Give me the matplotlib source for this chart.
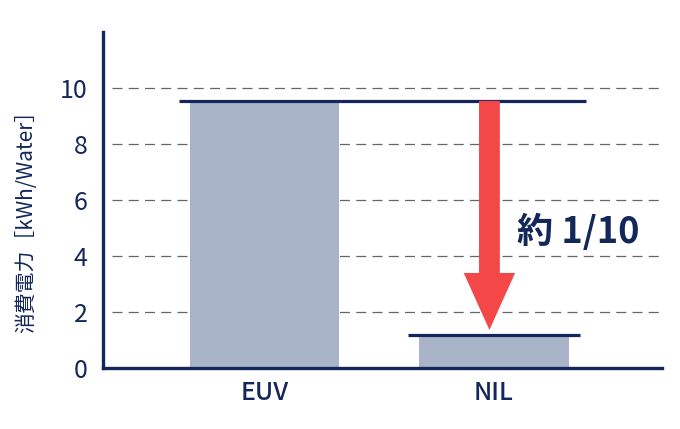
import matplotlib
matplotlib.use("Agg")
import matplotlib.pyplot as plt

plt.rcParams['font.family'] = ['Noto Sans CJK JP', 'DejaVu Sans']

# data
categories = ['EUV', 'NIL']
power = [9.54, 1.18]
yticks = [0, 2, 4, 6, 8, 10]
ratio_label = '約 1/10'
ylabel = '消費電力［kWh/Water］'

navy = '#13275a'
bar_color = '#aab4c8'
red = '#f44848'

fig = plt.figure(figsize=(6.8, 4.29), dpi=100)
ax = fig.add_axes([0.1515, 0.1422, 0.822, 0.7832])

x = [0, 1]
ax.bar(x, power, width=0.65, color=bar_color, zorder=2)

# dashed guide lines, starting a little right of the axis
ax.hlines(yticks[1:], -0.6645, 1.732, color='#666666', lw=0.9,
          linestyles=(0, (8, 5)), zorder=1)

# level lines on top of the bars
ax.hlines(power[0], -0.3725, 1.401, color=navy, lw=2.3, zorder=3)
ax.hlines(power[1], 0.625, 1.375, color=navy, lw=2.3, zorder=3)

# red arrow from EUV level down to NIL level
ax.annotate('', xy=(0.98, power[1] + 0.18), xytext=(0.98, power[0]),
            arrowprops=dict(arrowstyle='simple,head_length=4.1,head_width=3.7,tail_width=1.5',
                            mutation_scale=10, color=red, shrinkA=0, shrinkB=0, lw=0),
            zorder=4)
ax.text(1.1, 4.85, ratio_label, fontsize=26, fontweight='semibold', color=navy,
        ha='left', va='center', zorder=5)

ax.set_xlim(-0.704, 1.732)
ax.set_ylim(0, 12)
ax.set_yticks(yticks)
ax.set_xticks(x)
ax.set_xticklabels(categories)
ax.tick_params(axis='y', length=0, pad=11, labelsize=18, labelcolor=navy)
ax.tick_params(axis='x', length=0, pad=9, labelsize=18, labelcolor=navy)
for lab in ax.get_xticklabels():
    lab.set_fontweight('medium')

for s in ['top', 'right']:
    ax.spines[s].set_visible(False)
ax.spines['left'].set_color(navy)
ax.spines['bottom'].set_color(navy)
ax.spines['left'].set_linewidth(2.4)
ax.spines['bottom'].set_linewidth(2.4)

ax.set_ylabel(ylabel, fontsize=15, color=navy)
ax.yaxis.set_label_coords(-0.118, 0.45)

fig.savefig('out.png', dpi=100)
